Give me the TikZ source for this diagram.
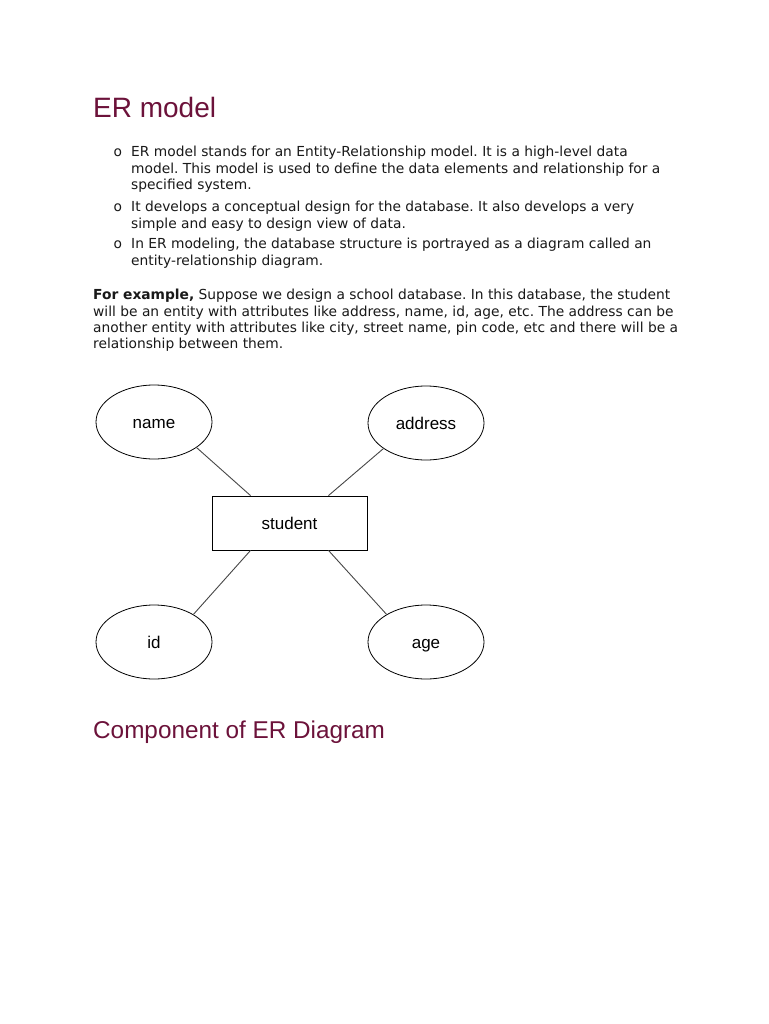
\documentclass[tikz,border=0pt]{standalone}
\usepackage{fontspec}
\setmainfont{DejaVu Sans}
\newfontfamily\headfont{Liberation Sans}
\usepackage{xcolor}
\definecolor{ermaroon}{RGB}{108,18,58}
\definecolor{ertext}{RGB}{25,25,25}
\definecolor{erline}{RGB}{70,70,70}
\usetikzlibrary{shapes.geometric,calc}
\frenchspacing

\begin{document}
\begin{tikzpicture}[x=1pt, y=-1pt,
    heading/.style={anchor=base west, inner sep=0pt, ermaroon,
                    font=\headfont\fontsize{28}{32}\selectfont},
    subheading/.style={heading, font=\headfont\fontsize{24.3}{28}\selectfont},
    bodytext/.style={anchor=north west, inner sep=0pt, align=left, ertext,
                     font=\fontsize{13.8}{16.4}\selectfont},
    bullet/.style={anchor=base west, inner sep=0pt, ertext,
                   font=\fontsize{13.8}{16.4}\selectfont},
    attr/.style={draw, ellipse, line width=0.8pt, minimum width=116pt, minimum height=74pt,
                 inner sep=0pt, text height=12.2pt, text depth=0pt,
                 font=\headfont\fontsize{17}{20}\selectfont},
    entity/.style={draw, rectangle, line width=0.8pt, minimum width=155pt, minimum height=54pt,
                   inner sep=0pt, text height=12.2pt, text depth=0pt,
                   font=\headfont\fontsize{17}{20}\selectfont},
    link/.style={erline, line width=0.9pt}
  ]
    \useasboundingbox (0,0) rectangle (768,1024);
    \fill[white] (0,0) rectangle (768,1024);

    % Title
    \node[heading] (title) at (93,118) {ER model};

    % Bullet points
    \node[bullet] (o1) at (113.5,156.5) {o};
    \node[bodytext] (b1) at (131,146)
      {ER model stands for an Entity-Relationship model. It is a high-level data\\
       model. This model is used to define the data elements and relationship for a\\
       specified system.};
    \node[bullet] (o2) at (113.5,211.5) {o};
    \node[bodytext] (b2) at (131,201)
      {It develops a conceptual design for the database. It also develops a very\\
       simple and easy to design view of data.};
    \node[bullet] (o3) at (113.5,248.5) {o};
    \node[bodytext] (b3) at (131,238)
      {In ER modeling, the database structure is portrayed as a diagram called an\\
       entity-relationship diagram.};

    % Example paragraph
    \node[bodytext] (ex) at (93,289)
      {\textbf{For example,} Suppose we design a school database. In this database, the student\\
       will be an entity with attributes like address, name, id, age, etc. The address can be\\
       another entity with attributes like city, street name, pin code, etc and there will be a\\
       relationship between them.};

    % Entity and attributes
    \node[entity] (student) at (289.5,523) {student};
    \node[attr] (name) at (154,422) {name};
    \node[attr] (address) at (426,423) {address};
    \node[attr] (id) at (154,642) {id};
    \node[attr] (age) at (426,642) {age};

    % Links
    \draw[link] (name.-31) -- ($(student.north west)!0.25!(student.north east)$);
    \draw[link] (address.-149) -- ($(student.north west)!0.75!(student.north east)$);
    \draw[link] ($(student.south west)!0.25!(student.south east)$) -- (id.35);
    \draw[link] ($(student.south west)!0.75!(student.south east)$) -- (age.145);

    % Next section
    \node[subheading] (comp) at (93,738) {Component of ER Diagram};
  \end{tikzpicture}
\end{document}
